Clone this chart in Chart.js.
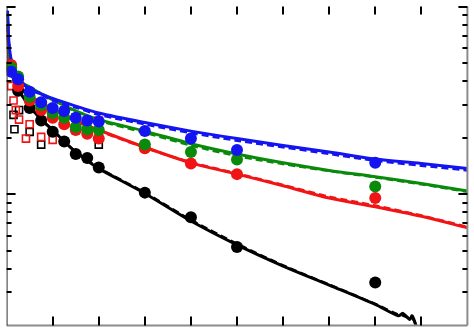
<!DOCTYPE html>
<html>
<head>
<meta charset="utf-8">
<script src="https://cdn.jsdelivr.net/npm/chart.js@4/dist/chart.umd.min.js"></script>
<style>
  html, body { margin: 0; padding: 0; background: #fff; }
  #chart { display: block; }
</style>
</head>
<body>
<canvas id="chart" width="474" height="332"></canvas>
<script>
// ---------- Data ----------
const xTicks = [1, 2, 3, 4, 5, 6, 7, 8, 9];
const yMajorTicks = [1, 10];
const yMinorTicks = [0.3, 0.4, 0.5, 0.6, 0.7, 0.8, 0.9, 2, 3, 4, 5, 6, 7, 8, 9];

// model curves (solid) and second model (dashed)
const blueLineX   = [0.02, 0.05, 0.1, 0.2, 0.35, 0.5, 0.75, 1, 1.5, 2, 3, 4, 5, 6, 7, 8, 9, 10];
const blueLineY   = [9.5, 6.5, 5.2, 4.3, 3.9, 3.64, 3.43, 3.24, 2.95, 2.71, 2.41, 2.17, 1.98, 1.82, 1.68, 1.54, 1.46, 1.37];
const blueDashY   = [9.5, 6.5, 5.2, 4.3, 3.9, 3.62, 3.40, 3.16, 2.90, 2.65, 2.36, 2.12, 1.93, 1.78, 1.64, 1.51, 1.42, 1.34];

const greenLineX  = [0.02, 0.05, 0.1, 0.2, 0.35, 0.5, 0.75, 1, 1.5, 2, 3, 4, 5, 6, 7, 8, 9, 10];
const greenLineY  = [9.0, 6.0, 4.9, 4.2, 3.9, 3.73, 3.43, 3.20, 2.78, 2.50, 2.17, 1.86, 1.64, 1.47, 1.34, 1.24, 1.14, 1.04];
const greenDashY  = [9.0, 6.0, 4.9, 4.2, 3.9, 3.72, 3.42, 3.18, 2.76, 2.47, 2.13, 1.82, 1.60, 1.45, 1.33, 1.23, 1.13, 1.03];

const redLineX    = [0.02, 0.05, 0.1, 0.2, 0.35, 0.5, 1, 1.5, 2, 3, 4, 5, 6, 7, 8, 9, 10];
const redLineY    = [8.0, 5.2, 4.5, 4.0, 3.6, 3.35, 2.85, 2.47, 2.20, 1.78, 1.47, 1.28, 1.11, 0.954, 0.858, 0.763, 0.663];
const redDashY    = [8.0, 5.2, 4.5, 4.0, 3.6, 3.33, 2.83, 2.45, 2.18, 1.77, 1.48, 1.29, 1.12, 0.97, 0.87, 0.77, 0.67];

const blackLineX  = [0.02, 0.05, 0.1, 0.2, 0.25, 0.5, 0.75, 1, 1.25, 1.5, 1.75, 2, 3, 4, 5, 6, 7, 8, 8.5, 8.6, 8.75, 8.8, 8.9];
const blackLineY  = [8.0, 5.5, 4.5, 3.8, 3.6, 2.95, 2.50, 2.20, 1.91, 1.68, 1.51, 1.37, 1.01, 0.72, 0.537, 0.414, 0.328, 0.259, 0.225, 0.232, 0.215, 0.225, 0.195];
const blackDashY  = [8.0, 5.5, 4.5, 3.8, 3.6, 2.95, 2.50, 2.20, 1.91, 1.68, 1.52, 1.38, 1.02, 0.73, 0.545, 0.418, 0.330, 0.26, 0.228, 0.226, 0.218, 0.22, 0.198];

// measured points (filled circles)
const dotX        = [0.1, 0.25, 0.5, 0.75, 1, 1.25, 1.5, 1.75, 2, 3, 4, 5, 8];
const blueDots    = [4.50, 4.10, 3.52, 3.09, 2.88, 2.78, 2.56, 2.47, 2.44, 2.17, 1.98, 1.72, 1.47];
const greenDots   = [4.72, 4.24, 3.31, 2.98, 2.71, 2.56, 2.28, 2.22, 2.20, 1.84, 1.68, 1.53, 1.10];
const redDots     = [4.88, 3.77, 3.16, 2.81, 2.56, 2.36, 2.20, 2.10, 1.98, 1.76, 1.46, 1.28, 0.954];
const blackDotX   = [0.25, 0.5, 0.75, 1, 1.25, 1.5, 1.75, 2, 3, 4, 5, 8];
const blackDots   = [3.56, 2.88, 2.47, 2.15, 1.91, 1.64, 1.56, 1.39, 1.02, 0.754, 0.524, 0.339];

// open squares
const redSqX      = [0.1, 0.15, 0.2, 0.27, 0.42, 0.5, 0.75, 1, 1.5, 2];
const redSqY      = [3.77, 3.16, 2.81, 2.50, 1.98, 2.36, 2.02, 1.95, 2.20, 2.47];
const blackSqX    = [0.15, 0.17, 0.27, 0.5, 0.75, 1.25, 1.5, 2];
const blackSqY    = [2.65, 2.22, 2.81, 2.15, 1.84, 2.78, 2.56, 1.84];

const BLUE = "#1414f0", GREEN = "#0a8a0a", RED = "#f01414", BLACK = "#000000";

// ---------- Helpers ----------
const pts = (xs, ys) => xs.map((x, i) => ({ x, y: ys[i] }));

function lineSet(xs, ys, color, dashed) {
  return {
    data: pts(xs, ys), borderColor: color, borderWidth: dashed ? 2.5 : 3,
    borderDash: dashed ? [7, 4] : [], pointRadius: 0, tension: 0.3,
    fill: false, order: 2
  };
}

function dotSet(xs, ys, color) {
  return {
    data: pts(xs, ys), showLine: false, pointRadius: 6, pointStyle: "circle",
    pointBackgroundColor: color, pointBorderColor: color, pointBorderWidth: 0, order: 0
  };
}

function squareSet(xs, ys, color) {
  return {
    data: pts(xs, ys), showLine: false, pointRadius: 5, pointStyle: "rect",
    pointBackgroundColor: "rgba(0,0,0,0)", pointBorderColor: color, pointBorderWidth: 1.6, order: 1
  };
}

// ---------- Frame + inward ticks ----------
const framePlugin = {
  id: "frame",
  afterDraw(chart) {
    const { ctx, chartArea: a, scales: { x, y } } = chart;
    ctx.save();
    // axes lines
    ctx.lineWidth = 2;
    ctx.strokeStyle = "#8c8c8c";
    ctx.beginPath();
    ctx.moveTo(a.left, a.bottom); ctx.lineTo(a.right, a.bottom);
    ctx.moveTo(a.right, a.top); ctx.lineTo(a.right, a.bottom);
    ctx.stroke();
    ctx.lineWidth = 1;
    ctx.strokeStyle = "#333";
    ctx.beginPath();
    ctx.moveTo(a.left + 0.5, a.top); ctx.lineTo(a.left + 0.5, a.bottom);
    ctx.stroke();

    ctx.strokeStyle = "#000";
    ctx.lineWidth = 2;
    ctx.beginPath();
    xTicks.forEach(v => {
      const px = Math.round(x.getPixelForValue(v));
      ctx.moveTo(px, a.top); ctx.lineTo(px, a.top + 8);
      ctx.moveTo(px, a.bottom); ctx.lineTo(px, a.bottom - 9);
    });
    yMajorTicks.forEach(v => {
      const py = Math.round(y.getPixelForValue(v));
      ctx.moveTo(a.left, py); ctx.lineTo(a.left + 9, py);
      ctx.moveTo(a.right, py); ctx.lineTo(a.right - 9, py);
    });
    yMinorTicks.forEach(v => {
      const py = Math.round(y.getPixelForValue(v));
      ctx.moveTo(a.left, py); ctx.lineTo(a.left + 5, py);
      ctx.moveTo(a.right, py); ctx.lineTo(a.right - 5, py);
    });
    ctx.stroke();
    ctx.restore();
  }
};

new Chart(document.getElementById("chart"), {
  type: "line",
  data: {
    datasets: [
      lineSet(blueLineX, blueLineY, BLUE, false),
      lineSet(blueLineX, blueDashY, BLUE, true),
      lineSet(greenLineX, greenLineY, GREEN, false),
      lineSet(greenLineX, greenDashY, GREEN, true),
      lineSet(redLineX, redLineY, RED, false),
      lineSet(redLineX, redDashY, RED, true),
      lineSet(blackLineX, blackLineY, BLACK, false),
      lineSet(blackLineX, blackDashY, BLACK, true),
      squareSet(redSqX, redSqY, RED),
      squareSet(blackSqX, blackSqY, BLACK),
      dotSet(dotX, blueDots, BLUE),
      dotSet(dotX, greenDots, GREEN),
      dotSet(dotX, redDots, RED),
      dotSet(blackDotX, blackDots, BLACK)
    ]
  },
  options: {
    responsive: false,
    animation: false,
    layout: { padding: { left: 0, top: 0, right: 1, bottom: 1 } },
    plugins: { legend: { display: false }, tooltip: { enabled: false } },
    scales: {
      x: { type: "linear", min: 0, max: 10, display: false },
      y: { type: "logarithmic", min: 0.2, max: 10, display: false }
    }
  },
  plugins: [framePlugin]
});
</script>
</body>
</html>
